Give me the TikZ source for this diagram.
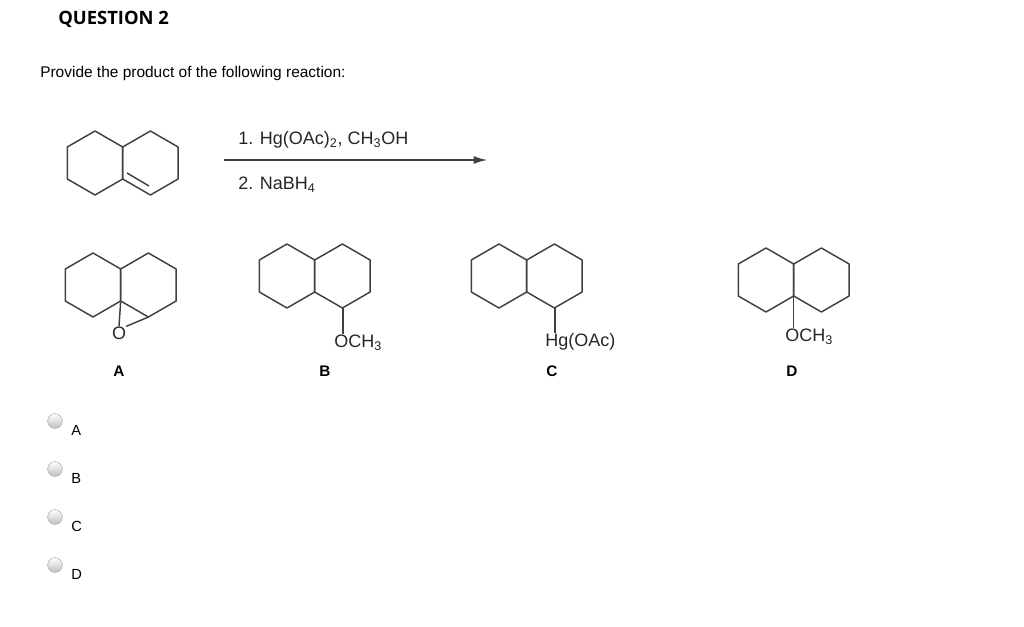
\documentclass[tikz,border=0pt]{standalone}
\usepackage{fontspec}
\usetikzlibrary{arrows.meta}
\setmainfont{Liberation Sans}
\newfontfamily\titlefont{Open Sans}
\begin{document}
\begin{tikzpicture}[x=0.75pt,y=-0.75pt,
  bond/.style={line width=1.1pt,color=black!75,line join=round},
  chem/.style={font=\fontsize{13.5}{16}\selectfont,inner sep=0pt,text=black!85},
  lbl/.style={font=\bfseries\fontsize{11.5}{14}\selectfont,inner sep=0pt},
  opt/.style={font=\fontsize{11}{13}\selectfont,inner sep=0pt,anchor=west},
  radio/.style={circle,minimum size=11pt,inner sep=0pt,draw=black!35,top color=white,bottom color=black!25}]
\useasboundingbox (0,0) rectangle (1024,627);
\newcommand{\hexring}[2]{\draw[bond] (#1+27.7,#2-16) -- (#1,#2-32) -- (#1-27.7,#2-16) -- (#1-27.7,#2+16) -- (#1,#2+32) -- (#1+27.7,#2+16) -- cycle;}
\newcommand{\decal}[2]{\hexring{#1}{#2}\hexring{#1+55.4}{#2}}
\node[font=\titlefont\bfseries\fontsize{13.8}{16}\selectfont,anchor=west,inner sep=0pt] (title) at (58,19) {QUESTION 2};
\node[opt,font=\fontsize{11.6}{14}\selectfont] (q) at (40,74) {Provide the product of the following reaction:};
% starting material
\decal{95}{163}
\draw[bond] (127,173) -- (149,186);
% arrow
\coordinate (a1) at (224,160); \coordinate (a2) at (487,160);
\draw[line width=1.1pt,black!75,-{Latex[length=10pt,width=6pt]}] (a1) -- (a2);
\node[chem,anchor=west] (r1) at (238,140) {1. Hg(OAc)\textsubscript{2}, CH\textsubscript{3}OH};
\node[chem,anchor=west] (r2) at (238,185) {2. NaBH\textsubscript{4}};
% A
\decal{93}{285}
\node[chem] (oA) at (119,333) {O};
\draw[bond] (120.7,301) -- (oA.north);
\draw[bond] (oA.north east) -- (148.5,317);
\node[lbl] (A) at (119,371) {A};
% B
\decal{287}{276}
\node[chem,anchor=west] (oB) at (334,343) {OCH\textsubscript{3}};
\draw[bond] (342.8,308) -- (342.8,334);
\node[lbl] (B) at (325,371) {B};
% C
\decal{499}{276}
\node[chem,anchor=west] (hC) at (545,342) {Hg(OAc)};
\draw[bond] (554.8,308) -- (554.8,333);
\node[lbl] (C) at (552,371) {C};
% D
\decal{766}{280}
\node[chem,anchor=west] (oD) at (785,337) {OCH\textsubscript{3}};
\draw[bond] (793.7,296) -- (793.7,328);
\node[lbl] (D) at (792,371) {D};
% options
\foreach \y/\t/\n in {421/A/1,469/B/2,517/C/3,565/D/4}{
  \node[radio] (rb\n) at (55,\y) {};
  \node[opt] (ot\n) at (71,\y+9) {\t};
}
\end{tikzpicture}
\end{document}
